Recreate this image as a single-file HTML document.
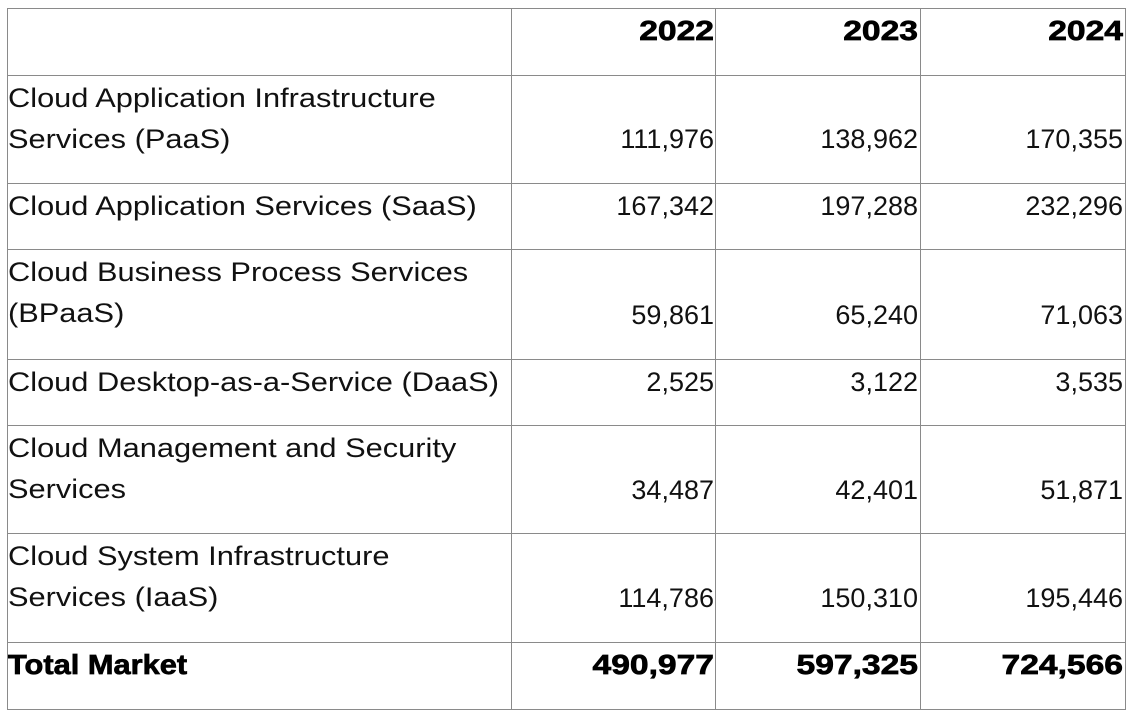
<!DOCTYPE html>
<html><head><style>
body{margin:0;width:1136px;height:716px;background:#fff;position:relative;font-family:"Liberation Sans",sans-serif;color:#111;overflow:hidden}
.h{position:absolute;left:7px;width:1119px;height:1px;background:#8a8a8a}
.v{position:absolute;top:8px;height:702px;width:1px;background:#8a8a8a}
.t{position:absolute;font-size:27px;line-height:41px;white-space:nowrap}
.l{left:8px;transform:scaleX(1.14);transform-origin:left center}
.n{text-align:right;width:200px}
.c1{left:514px}.c2{left:718px}.c3{left:923px}
.b{font-weight:bold;font-size:28px;color:#000;-webkit-text-stroke:0.7px #000}
.n.b{transform:scaleX(1.2);transform-origin:right center}
.l.b{transform:scaleX(1.1)}
</style></head><body>
<div class="h" style="top:8px"></div><div class="h" style="top:75px"></div><div class="h" style="top:183px"></div><div class="h" style="top:249px"></div><div class="h" style="top:359px"></div><div class="h" style="top:425px"></div><div class="h" style="top:533px"></div><div class="h" style="top:642px"></div><div class="h" style="top:709px"></div>
<div class="v" style="left:7px"></div><div class="v" style="left:511px"></div><div class="v" style="left:715px"></div><div class="v" style="left:920px"></div><div class="v" style="left:1125px"></div>

<div class="t n c1 b" style="top:10px">2022</div><div class="t n c2 b" style="top:10px">2023</div><div class="t n c3 b" style="top:10px">2024</div>

<div class="t l" style="top:78px">Cloud Application Infrastructure<br>Services (PaaS)</div>
<div class="t n c1" style="top:119px">111,976</div><div class="t n c2" style="top:119px">138,962</div><div class="t n c3" style="top:119px">170,355</div>

<div class="t l" style="top:186px">Cloud Application Services (SaaS)</div>
<div class="t n c1" style="top:186px">167,342</div><div class="t n c2" style="top:186px">197,288</div><div class="t n c3" style="top:186px">232,296</div>

<div class="t l" style="top:252px">Cloud Business Process Services<br>(BPaaS)</div>
<div class="t n c1" style="top:295px">59,861</div><div class="t n c2" style="top:295px">65,240</div><div class="t n c3" style="top:295px">71,063</div>

<div class="t l" style="top:362px">Cloud Desktop-as-a-Service (DaaS)</div>
<div class="t n c1" style="top:362px">2,525</div><div class="t n c2" style="top:362px">3,122</div><div class="t n c3" style="top:362px">3,535</div>

<div class="t l" style="top:428px">Cloud Management and Security<br>Services</div>
<div class="t n c1" style="top:470px">34,487</div><div class="t n c2" style="top:470px">42,401</div><div class="t n c3" style="top:470px">51,871</div>

<div class="t l" style="top:536px">Cloud System Infrastructure<br>Services (IaaS)</div>
<div class="t n c1" style="top:578px">114,786</div><div class="t n c2" style="top:578px">150,310</div><div class="t n c3" style="top:578px">195,446</div>

<div class="t l b" style="top:644px">Total Market</div>
<div class="t n c1 b" style="top:644px">490,977</div><div class="t n c2 b" style="top:644px">597,325</div><div class="t n c3 b" style="top:644px">724,566</div>
</body></html>
